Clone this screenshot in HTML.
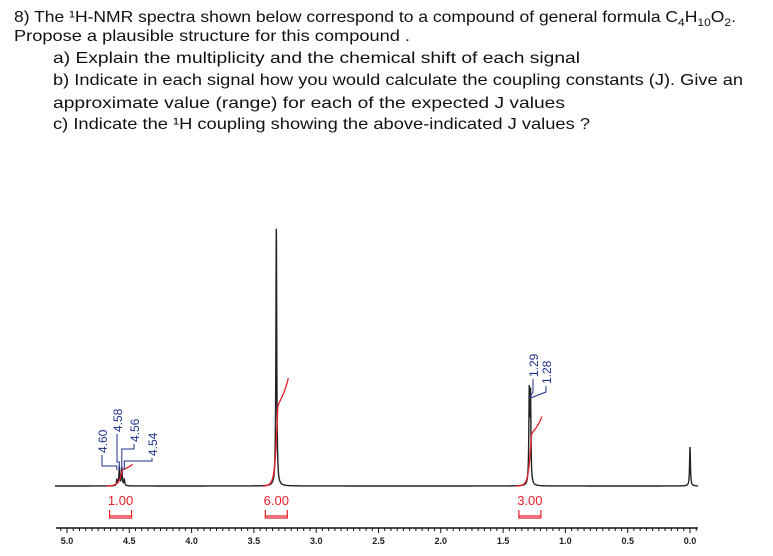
<!DOCTYPE html>
<html><head><meta charset="utf-8"><style>
html,body{margin:0;padding:0;background:#fff;}
svg{display:block;font-family:"Liberation Sans",sans-serif;}
</style></head><body>
<svg id="c" width="773" height="556" viewBox="0 0 773 556">
<g font-size="16" fill="#111">
<text x="14" y="22" textLength="722" lengthAdjust="spacingAndGlyphs">8) The ¹H-NMR spectra shown below correspond to a compound of general formula C<tspan font-size="11" dy="4">4</tspan><tspan dy="-4">H</tspan><tspan font-size="11" dy="4">10</tspan><tspan dy="-4">O</tspan><tspan font-size="11" dy="4">2</tspan><tspan dy="-4">.</tspan></text>
<text x="14" y="41" textLength="396" lengthAdjust="spacingAndGlyphs">Propose a plausible structure for this compound .</text>
<text x="53" y="63" textLength="527" lengthAdjust="spacingAndGlyphs">a)  Explain the multiplicity and the chemical shift of each signal</text>
<text x="53" y="85" textLength="690" lengthAdjust="spacingAndGlyphs">b) Indicate in each signal how you would calculate the coupling constants (J). Give an</text>
<text x="53" y="108" textLength="512" lengthAdjust="spacingAndGlyphs">approximate value (range) for each of the expected J values</text>
<text x="53" y="129" textLength="537" lengthAdjust="spacingAndGlyphs">c) Indicate the ¹H coupling showing the above-indicated  J values ?</text>
</g>
<g id="chart"></g>
</svg>
<script>
const peakPpm=[4.60,4.58,4.56,4.54,3.32,1.29,1.28,0.00];
const peakHeight=[6,18,18,6,258,89,86,39];
const peakLabels=["4.60","4.58","4.56","4.54","1.29","1.28"];
const peakLabelPpm=[4.60,4.58,4.56,4.54,1.29,1.28];
const integralCenters=[4.57,3.32,1.285];
const integralValues=["1.00","6.00","3.00"];
const integralRise=[18,90,58];
const tickLabels=["5.0","4.5","4.0","3.5","3.0","2.5","2.0","1.5","1.0","0.5","0.0"];
const tickValues=[5.0,4.5,4.0,3.5,3.0,2.5,2.0,1.5,1.0,0.5,0.0];

const NS="http://www.w3.org/2000/svg";
const g=document.getElementById('chart');
const X=p=>67+(5-p)*124.6;
const BASE=486, AXY=528;
function mk(t,a){const e=document.createElementNS(NS,t);for(const k in a)e.setAttribute(k,a[k]);g.appendChild(e);return e;}

// spectrum
let d="";
for(let x=55;x<=698;x+=0.1){
  const p=5-(x-67)/124.6;let y=0;
  for(let i=0;i<peakPpm.length;i++){const w=0.004;const dx=p-peakPpm[i];y+=peakHeight[i]*w*w/(dx*dx+w*w);}
  d+=(d?"L":"M")+x.toFixed(1)+" "+(BASE-y).toFixed(2);
}
const sp=mk('path',{d:d,fill:'none',stroke:'#222','stroke-width':1.4});



// integrals
for(let i=0;i<integralCenters.length;i++){
  const cx=X(integralCenters[i]),r=integralRise[i];
  const pth=mk('path',{d:`M${cx-14} ${BASE} C${cx-4} ${BASE} ${cx-2} ${BASE-3} ${cx} ${BASE-r*0.5} S${cx+1} ${BASE-r*0.85} ${cx+2} ${BASE-r*0.9} S${cx+8} ${BASE-r} ${cx+12} ${BASE-r-r*0.2}`,fill:'none',stroke:'#e8202a','stroke-width':1.3});
  
  
  const t=mk('text',{x:cx,y:505,'text-anchor':'middle','font-size':13,fill:'#e8202a'});t.textContent=integralValues[i];
  
  
  const b=mk('path',{d:`M${cx-11} 510 V518 H${cx+11} V510 M${cx-11} 516 H${cx+11}`,fill:'none',stroke:'#e8202a','stroke-width':1.2});
  
  
}

// peak labels (label column position / leader geometry)
const labX=[107,122,139,157,538,551];
const labY=[453,432,442,456,377,384];
const legY=[466,462,449,461,392,392];
for(let i=0;i<peakLabels.length;i++){
  const px=X(peakLabelPpm[i]);
  const t=mk('text',{x:0,y:0,'font-size':12,fill:'#1f2f8a',transform:`translate(${labX[i]},${labY[i]}) rotate(-90)`});
  t.textContent=peakLabels[i];
  
  
  const lx=labX[i]-5;
  const top=i<4?470:398;
  let dd;
  if(i<4) dd=`M${lx} ${labY[i]+2} V${legY[i]} H${px} V${top}`;
  else dd=`M${lx} ${labY[i]+2} V${legY[i]} L${px} ${top}`;
  const l=mk('path',{d:dd,fill:'none',stroke:'#1f2f8a','stroke-width':1});
  
  
}

// axis
const ax=mk('line',{x1:56,y1:AXY,x2:698,y2:AXY,stroke:'#111','stroke-width':1.5});


for(let v=5.05;v>=-0.05;v-=0.05){
  const x=X(v);const major=Math.abs(v*10-Math.round(v*10))<0.01&&Math.round(v*10)%5===0;
  const tk=mk('line',{x1:x,y1:AXY,x2:x,y2:AXY+(major?5:3),stroke:'#111','stroke-width':1});
  
  
}
for(let i=0;i<tickValues.length;i++){
  const t=mk('text',{x:X(tickValues[i]),y:544,'text-anchor':'middle','font-size':9,'font-weight':'bold',fill:'#222'});
  t.textContent=tickLabels[i];
  
  
}
</script>
</body></html>
